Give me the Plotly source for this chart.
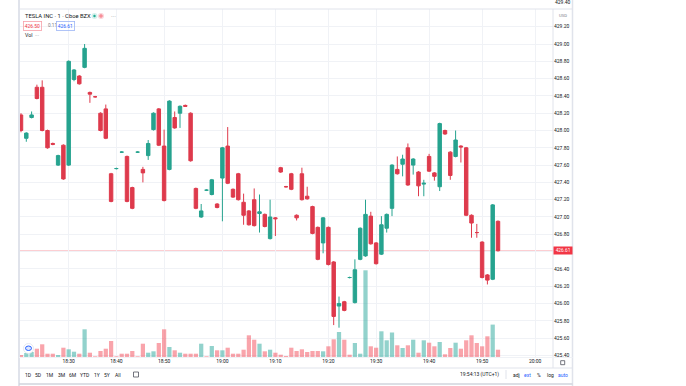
import plotly.graph_objects as go

# ---------------- data ----------------
opens = [428.18, 427.91, 428.15, 428.50, 428.50, 428.00, 427.85, 427.60, 427.83, 427.60,
         428.59, 428.63, 428.73, 428.44, 428.39, 428.20, 428.25, 427.50, 427.56, 427.75,
         427.70, 427.34, 427.75, 427.55, 427.71, 428.01, 428.25, 427.82, 427.55, 428.15,
         428.20, 428.29, 428.20, 427.33, 427.00, 427.31, 427.26, 427.15, 427.45, 427.82,
         427.32, 427.50, 427.17, 427.07, 427.20, 427.04, 427.03, 426.75, 426.99, 427.57,
         427.35, 427.50, 427.02, 427.50, 427.24, 427.12, 426.88, 426.70, 426.88, 426.48,
         425.97, 426.02, 426.30, 426.01, 426.51, 426.55, 427.01, 426.70, 426.57, 426.87,
         427.10, 427.55, 427.61, 427.80, 427.60, 427.52, 427.38, 427.70, 427.51, 427.35,
         428.00, 427.75, 427.70, 427.82, 427.80, 427.02, 426.82, 426.71, 426.33, 426.28,
         426.95]
highs = [428.20, 427.98, 428.22, 428.53, 428.58, 428.01, 427.86, 427.72, 427.84, 428.81,
         428.71, 428.64, 429.00, 428.45, 428.40, 428.21, 428.30, 427.51, 427.57, 427.76,
         427.71, 427.35, 427.76, 427.58, 427.89, 428.21, 428.26, 428.01, 428.35, 428.22,
         428.29, 428.30, 428.21, 427.34, 427.15, 427.32, 427.44, 427.16, 427.81, 428.04,
         427.33, 427.51, 427.27, 427.08, 427.33, 427.26, 427.04, 427.20, 427.00, 427.58,
         427.36, 427.51, 427.03, 427.57, 427.35, 427.13, 426.89, 427.00, 426.89, 426.49,
         426.08, 426.03, 426.31, 426.51, 426.88, 427.20, 427.06, 426.71, 427.01, 427.04,
         427.61, 427.70, 427.72, 427.85, 427.68, 427.53, 427.43, 427.73, 427.52, 428.09,
         428.01, 427.76, 428.00, 427.83, 427.81, 427.03, 426.92, 426.72, 426.34, 427.15,
         426.96]
lows = [427.98, 427.87, 428.14, 428.36, 427.99, 427.79, 427.83, 427.59, 427.43, 427.59,
        428.57, 428.53, 428.72, 428.32, 428.38, 427.99, 427.90, 427.17, 427.55, 427.74,
        427.17, 427.09, 427.74, 427.40, 427.66, 428.00, 427.82, 427.18, 427.54, 428.02,
        428.03, 428.28, 427.64, 427.09, 426.99, 427.30, 427.25, 427.10, 426.95, 427.38,
        427.22, 427.19, 426.91, 426.90, 426.89, 426.82, 426.88, 426.74, 426.78, 427.51,
        427.34, 427.31, 426.96, 427.19, 427.20, 426.80, 426.50, 426.58, 426.44, 425.75,
        425.72, 425.91, 426.29, 426.00, 426.50, 426.54, 426.68, 426.45, 426.56, 426.82,
        427.01, 427.49, 427.47, 427.36, 427.49, 427.24, 427.24, 427.52, 427.42, 427.30,
        427.95, 427.43, 427.69, 427.63, 427.01, 426.76, 426.76, 426.29, 426.22, 426.27,
        426.60]
closes = [428.00, 427.97, 428.18, 428.37, 428.00, 427.80, 427.84, 427.71, 427.44, 428.80,
          428.70, 428.54, 428.95, 428.42, 428.39, 428.00, 427.91, 427.18, 427.56, 427.75,
          427.18, 427.10, 427.75, 427.51, 427.85, 428.20, 427.83, 427.19, 428.34, 428.03,
          428.28, 428.28, 427.65, 427.10, 427.07, 427.31, 427.43, 427.11, 427.80, 427.39,
          427.23, 427.20, 427.02, 426.91, 426.90, 427.06, 426.89, 427.00, 426.98, 427.52,
          427.35, 427.32, 426.99, 427.20, 427.21, 426.81, 426.51, 426.99, 426.45, 425.85,
          426.00, 425.92, 426.30, 426.39, 426.87, 427.03, 426.69, 426.46, 426.91, 427.03,
          427.60, 427.50, 427.67, 427.37, 427.67, 427.36, 427.39, 427.53, 427.47, 428.08,
          427.96, 427.48, 427.89, 427.81, 427.02, 426.93, 426.82, 426.30, 426.27, 427.14,
          426.61]
volumes = [200, 400, 500, 830, 1270, 330, 330, 200, 930, 770,
           530, 330, 2770, 430, 70, 600, 830, 1600, 70, 330,
           330, 600, 70, 1330, 430, 570, 1400, 2770, 1000, 670,
           430, 330, 330, 330, 1330, 70, 1100, 670, 670, 930,
           330, 330, 730, 2170, 1730, 1330, 570, 730, 430, 230,
           100, 930, 600, 770, 500, 600, 600, 570, 1070, 1770,
           2500, 1730, 230, 1400, 330, 8670, 1070, 930, 2570, 1670,
           2450, 1170, 900, 1170, 1730, 430, 1670, 1430, 1070, 1500,
           270, 900, 1430, 830, 1670, 2170, 1400, 1070, 2070, 3240,
           730]
bar_index = list(range(len(opens)))
tick_index = [9, 18, 27, 38, 48, 58, 67, 77, 87, 97]
tick_labels = ["18:30", "18:40", "18:50", "19:00", "19:10", "19:20", "19:30", "19:40", "19:50", "20:00"]
price_ticks = [425.40, 425.60, 425.80, 426.00, 426.20, 426.40, 426.60, 426.80, 427.00, 427.20,
               427.40, 427.60, 427.80, 428.00, 428.20, 428.40, 428.60, 428.80, 429.00, 429.20]
last_price = 426.61
bid_price, spread, ask_price = "426.50", "0.11", "426.61"
range_buttons = ["1D", "5D", "1M", "3M", "6M", "YTD", "1Y", "5Y", "All"]

# ---------------- style ----------------
FONT = "Roboto"
UP = "#26a38f"
DOWN = "#de3a4c"
UP_VOL = "rgba(38,166,154,0.50)"
DOWN_VOL = "rgba(242,54,69,0.45)"
GRID = "#f0f2f6"
BORDER = "#e0e3eb"
TXT = "#131722"

W, H = 686, 386
L, R, T, B = 19, 553, 9, 357   # pane edges in pixels


def px(x):
    return (x - L) / (R - L)


def py(y):
    return (B - y) / (B - T)


def ann(text, x, y, size=5.0, color=TXT, xanchor="left", **kw):
    return dict(text=text, x=px(x), y=py(y), xref="paper", yref="paper",
                xanchor=xanchor, yanchor="middle", showarrow=False,
                font=dict(size=size, color=color, family=FONT), **kw)


def line(x0, y0, x1, y1, color=BORDER, width=1):
    return dict(type="line", xref="paper", yref="paper",
                x0=px(x0), y0=py(y0), x1=px(x1), y1=py(y1),
                line=dict(color=color, width=width), layer="above")


vol_colors = [UP_VOL if c > o else DOWN_VOL for o, c in zip(opens, closes)]

fig = go.Figure()
fig.add_trace(go.Candlestick(
    x=bar_index, open=opens, high=highs, low=lows, close=closes,
    increasing=dict(line=dict(color=UP, width=1), fillcolor=UP),
    decreasing=dict(line=dict(color=DOWN, width=1), fillcolor=DOWN),
    whiskerwidth=0, showlegend=False, hoverinfo="skip",
))
fig.add_trace(go.Bar(
    x=bar_index, y=volumes, yaxis="y2", marker=dict(color=vol_colors, line=dict(width=0)),
    width=0.8, showlegend=False, hoverinfo="skip",
))

x_left = -(21 - L) / 5.3
x_right = x_left + (R - L) / 5.3

# the last-price label covers its neighbouring tick label, as in the reference
price_text = ["" if abs(p - last_price) < 0.05 else f"{p:.2f}" for p in price_ticks]

fig.update_layout(
    width=W, height=H,
    margin=dict(l=L, r=W - R, t=T, b=H - B, pad=0),
    paper_bgcolor="white", plot_bgcolor="white",
    boxgap=0.35, boxgroupgap=0,
    showlegend=False,
    font=dict(family=FONT, size=5, color=TXT),
    xaxis=dict(range=[x_left, x_right], rangeslider=dict(visible=False),
               tickvals=tick_index, ticktext=tick_labels, ticks="",
               showgrid=True, gridcolor=GRID, gridwidth=1, zeroline=False,
               showline=False, tickfont=dict(size=5, color=TXT, family=FONT)),
    yaxis=dict(range=[425.381, 429.405], side="right", tickvals=price_ticks,
               ticktext=price_text, ticks="",
               showgrid=True, gridcolor=GRID, gridwidth=1, zeroline=False,
               showline=False, tickfont=dict(size=5, color=TXT, family=FONT)),
    yaxis2=dict(range=[0, 34800], overlaying="y", showgrid=False, showticklabels=False,
                zeroline=False, visible=False),
)

shapes = [
    dict(type="line", xref="paper", yref="y", x0=0, x1=1, y0=last_price, y1=last_price,
         line=dict(color="rgba(242,54,69,0.30)", width=1), layer="below"),
    line(L, 0, L, H, BORDER, 2),
    line(R, T, R, 368, BORDER, 1),
    line(572.5, 0, 572.5, H, BORDER, 1.5),
    line(L, T, 572.5, T, BORDER, 1),
    line(L, B + 0.5, 572.5, B + 0.5, "#f0f2f6", 1),
    line(L, 368, 572.5, 368, BORDER, 1),
    line(L, 384, 572.5, 384, "#d1d4dc", 1.5),
    line(506, 370, 506, 379, BORDER, 1),
    dict(type="rect", xref="paper", yref="paper", x0=px(560.7), x1=px(564.7), y0=py(364.7), y1=py(360.7),
         line=dict(color="#50535e", width=0.8), fillcolor="white"),
    dict(type="rect", xref="paper", yref="paper", x0=px(133.5), x1=px(138.5), y0=py(377), y1=py(372),
         line=dict(color="#50535e", width=0.8), fillcolor="white"),
    dict(type="circle", xref="paper", yref="paper", x0=px(91.5), x1=px(97.5), y0=py(19), y1=py(13),
         line=dict(width=0), fillcolor="#d6f1ec"),
    dict(type="circle", xref="paper", yref="paper", x0=px(93.3), x1=px(95.7), y0=py(17.2), y1=py(14.8),
         line=dict(width=0), fillcolor="#22ab94"),
    dict(type="circle", xref="paper", yref="paper", x0=px(98), x1=px(104), y0=py(19), y1=py(13),
         line=dict(width=0), fillcolor="#fbd5da"),
    dict(type="circle", xref="paper", yref="paper", x0=px(99.8), x1=px(102.2), y0=py(17.2), y1=py(14.8),
         line=dict(color="#f23645", width=0.6), fillcolor="#fbd5da"),
    dict(type="circle", xref="paper", yref="paper", x0=px(23.5), x1=px(33.5), y0=py(353.5), y1=py(343.5),
         line=dict(color="#e0e3eb", width=0.8), fillcolor="white"),
    dict(type="circle", xref="paper", yref="paper", x0=px(25.5), x1=px(31.5), y0=py(350.5), y1=py(346),
         line=dict(color="#2962ff", width=1), fillcolor="#dbe6ff"),
]

annotations = [
    ann("TESLA INC · 1 · Cboe BZX", 22.5, 15.8, size=5.8),
    ann("···", 109, 15.5, size=6, color="#787b86"),
    ann(bid_price, 22.7, 25.8, size=4.9, color="#f23645", bordercolor="#f7a1a9", borderwidth=0.8, borderpad=1),
    ann(spread, 45.5, 25.8, size=4.7, color="#787b86"),
    ann(ask_price, 55.5, 25.8, size=4.9, color="#2962ff", bordercolor="#9db6f5", borderwidth=0.8, borderpad=1),
    ann("Vol", 22.5, 35.2, size=5.2),
    ann("···", 32.5, 35, size=5.2, color="#787b86"),
    ann("USD", 563, 15.3, size=4.2, color="#787b86", xanchor="center"),
    ann("429.40", 563, 2.5, size=5.0, color=TXT, xanchor="center"),
    dict(text=f"{last_price:.2f}", x=1, y=last_price, xref="paper", yref="y",
         xanchor="left", yanchor="middle", showarrow=False, bgcolor="#f23645",
         width=17, height=6, borderpad=0.5,
         font=dict(size=4.8, color="white", family=FONT)),
    ann("19:54:13 (UTC+1)", 479.5, 374.5, size=5.0, xanchor="center"),
    ann("adj", 516.5, 374.5, size=5.0, xanchor="center"),
    ann("ext", 527.5, 374.5, size=5.0, color="#2962ff", xanchor="center"),
    ann("%", 539, 374.5, size=5.0, xanchor="center"),
    ann("log", 550, 374.5, size=5.0, xanchor="center"),
    ann("auto", 563, 374.5, size=5.0, color="#2962ff", xanchor="center"),
]
button_x = [28, 38, 49, 61, 72, 84, 97, 107, 118]
for label, bx in zip(range_buttons, button_x):
    annotations.append(ann(label, bx, 374.5, size=5.0, xanchor="center"))

fig.update_layout(shapes=shapes, annotations=annotations)
fig.write_html("out.html", config={"displayModeBar": False},
               post_script="document.body.style.margin='0px';")
